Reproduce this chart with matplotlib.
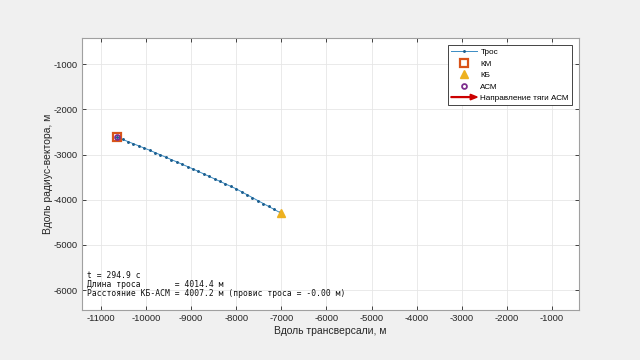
import numpy as np
import matplotlib
matplotlib.use("Agg")
import matplotlib.pyplot as plt
from matplotlib.patches import FancyArrow
from matplotlib.legend_handler import HandlerPatch

# трос
tros_x = [-10645, -10520, -10400, -10280, -10160, -10040, -9920, -9800, -9680, -9560,
          -9440, -9320, -9200, -9080, -8960, -8840, -8720, -8600, -8480, -8360,
          -8240, -8120, -8000, -7880, -7760, -7640, -7520, -7400, -7280, -7160,
          -7040, -7000]
tros_y = [-2615, -2665, -2713, -2761, -2809, -2857, -2905, -2957, -3008, -3060,
          -3112, -3163, -3215, -3267, -3319, -3374, -3429, -3484, -3540, -3595,
          -3650, -3705, -3760, -3825, -3890, -3955, -4020, -4085, -4150, -4215,
          -4280, -4300]
km_xy = (-10645, -2615)
kb_xy = (-7000, -4300)
asm_xy = (-10645, -2615)

xticks = list(range(-11000, 0, 1000))
yticks = list(range(-6000, 0, 1000))

info = ("t = 294.9 с\n"
        "Длина троса       = 4014.4 м\n"
        "Расстояние КБ-АСМ = 4007.2 м (провис троса = -0.00 м)")

plt.rcParams['font.family'] = ['Liberation Sans', 'DejaVu Sans']
plt.rcParams['axes.unicode_minus'] = False

fig = plt.figure(figsize=(6.4, 3.6), dpi=100, facecolor='#f0f0f0')
ax = fig.add_axes([0.128, 0.139, 0.777, 0.755])

ax.plot(tros_x, tros_y, '-', color='#3a8cc4', lw=0.7, marker='.', ms=2.2,
        mec='#1d5f8f', mfc='#1d5f8f', label='Трос')
ax.plot(*km_xy, 's', ms=6, mfc='none', mec='#D95319', mew=1.6, label='КМ')
ax.plot(*kb_xy, '^', ms=6, mfc='#EDB120', mec='#EDB120', label='КБ')
ax.plot(*asm_xy, 'o', ms=3.5, mfc='none', mec='#7E2F8E', mew=1.3, label='АСМ')
arrow_proxy = FancyArrow(0, 0, 1, 0, color='#cc0000')


def make_arrow(legend, orig_handle, xdescent, ydescent, width, height, fontsize):
    return FancyArrow(-xdescent, height / 2 - ydescent, width, 0, width=0.6,
                      head_width=4, head_length=5, length_includes_head=True,
                      color='#cc0000')


handles, labels = ax.get_legend_handles_labels()
handles.append(arrow_proxy)
labels.append('Направление тяги АСМ')
leg = ax.legend(handles, labels, loc='upper right', bbox_to_anchor=(0.986, 0.974),
                borderaxespad=0, fontsize=5.9, fancybox=False, framealpha=1,
                edgecolor='#262626', handlelength=3.2, handletextpad=0.4,
                labelspacing=0.45, borderpad=0.4, numpoints=1,
                handler_map={FancyArrow: HandlerPatch(patch_func=make_arrow)})
leg.get_frame().set_linewidth(0.6)

ax.text(0.01, 0.045, info, transform=ax.transAxes, family='DejaVu Sans Mono',
        fontsize=5.8, va='bottom', ha='left', color='#111111', linespacing=0.95)

ax.set_xlim(-11420, -400)
ax.set_ylim(-6440, -425)
ax.set_xticks(xticks)
ax.set_yticks(yticks)
ax.grid(True, color='#e6e6e6', lw=0.6)
ax.set_axisbelow(True)
ax.tick_params(direction='in', length=3, width=0.6, top=True, right=True,
               labelsize=6.8, colors='#262626', pad=3)
for s in ax.spines.values():
    s.set_color('#a0a0a0')
    s.set_linewidth(0.8)
ax.set_xlabel('Вдоль трансверсали, м', fontsize=7.5, color='#262626', labelpad=2)
ax.set_ylabel('Вдоль радиус-вектора, м', fontsize=7.5, color='#262626')
ax.yaxis.set_label_coords(-0.058, 0.5)

fig.savefig('out.png', dpi=100, facecolor=fig.get_facecolor())
